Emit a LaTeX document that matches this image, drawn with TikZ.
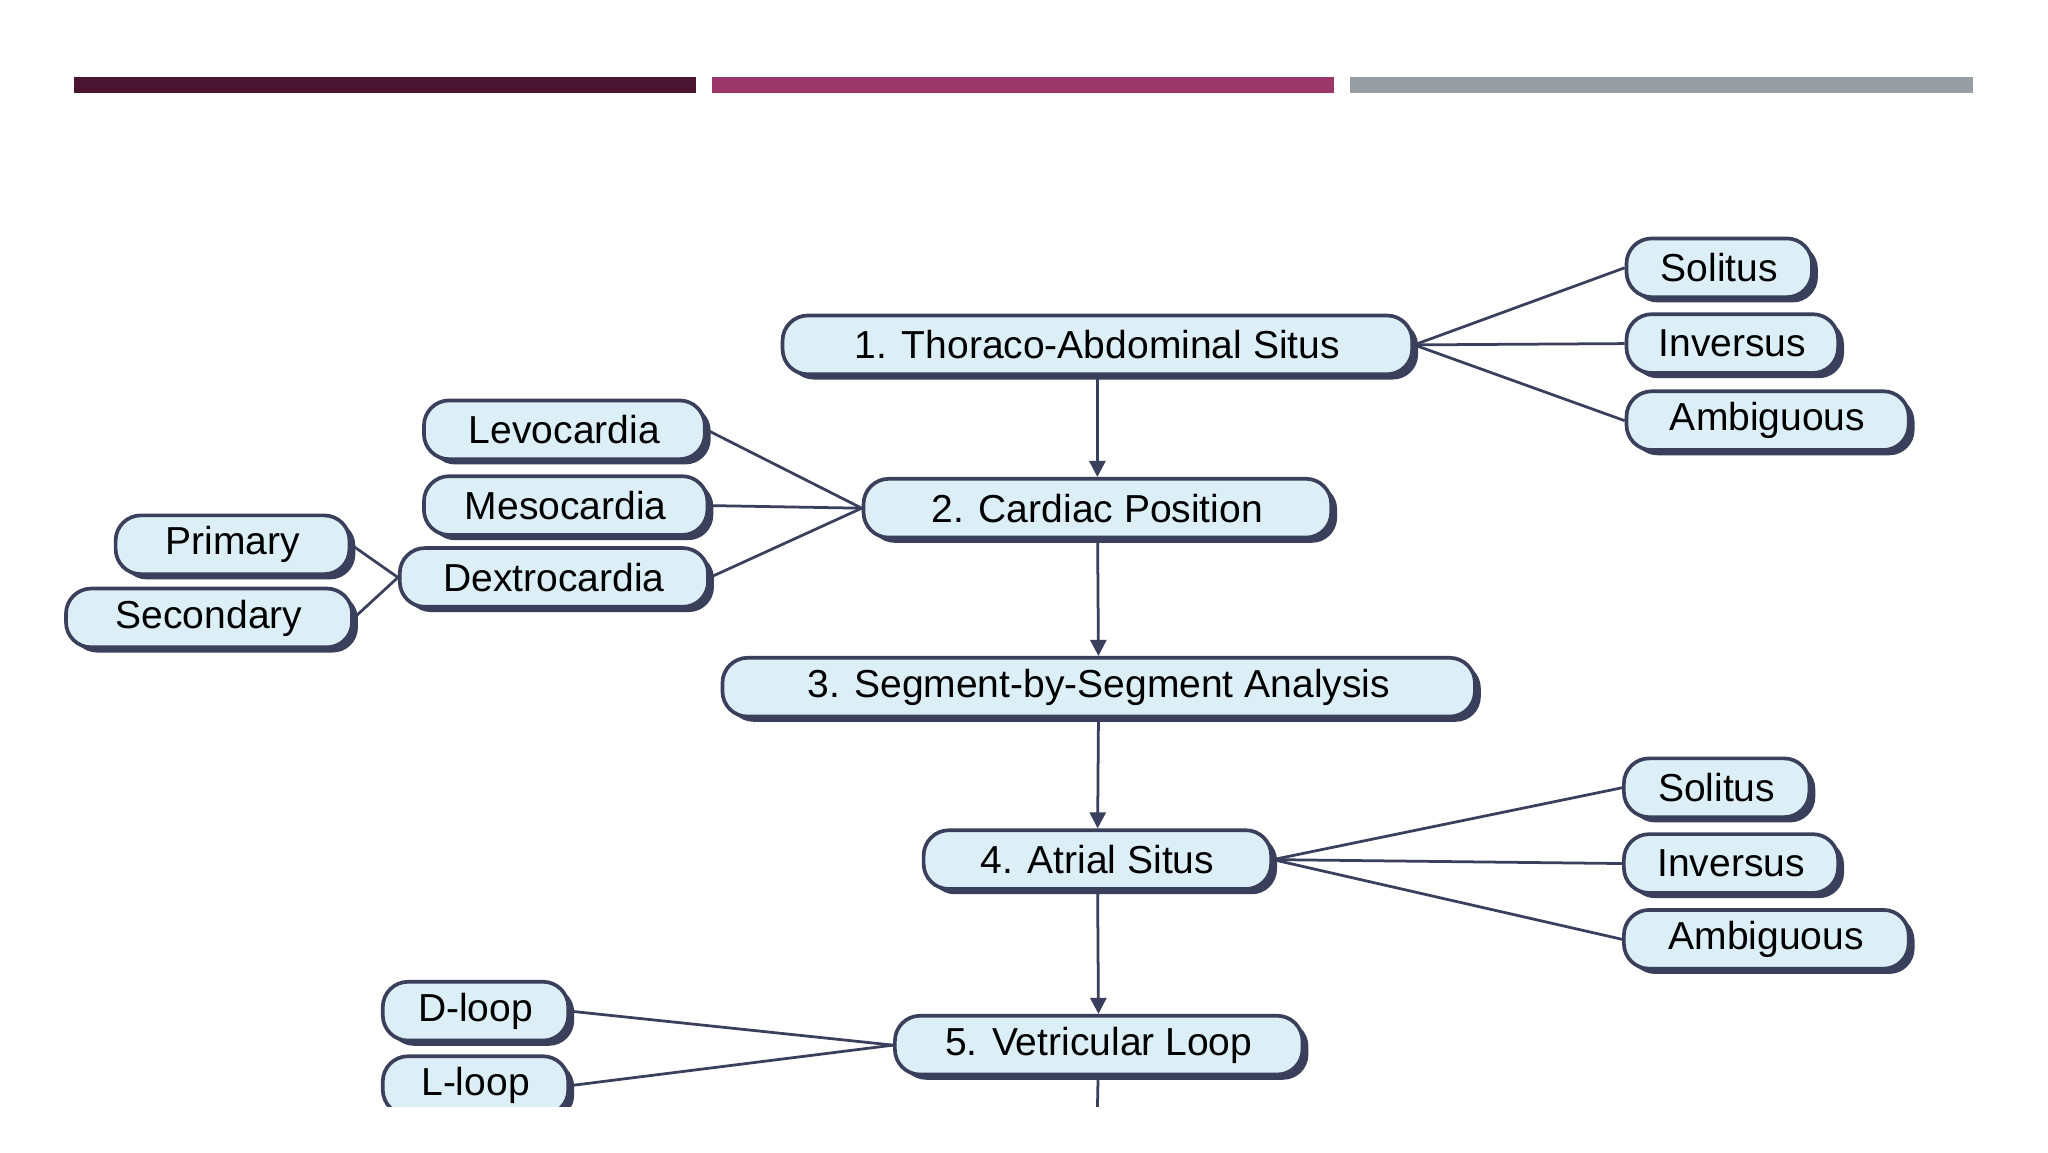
\documentclass[tikz,border=0pt]{standalone}
\usepackage{fontspec}
\setmainfont{Liberation Sans}
\usetikzlibrary{shadows,arrows.meta}
\definecolor{bx}{HTML}{DCEEF6}
\definecolor{ln}{HTML}{3A3F5C}
\definecolor{bar1}{HTML}{4A1530}
\definecolor{bar2}{HTML}{9B3668}
\definecolor{bar3}{HTML}{969EA3}
\tikzset{
 b/.style={draw=ln,line width=1.6pt,fill=bx,rounded corners=11pt,minimum height=0.9cm,inner sep=0pt,
   font=\fontsize{17}{17}\selectfont,
   drop shadow={shadow xshift=0.09cm,shadow yshift=-0.08cm,fill=ln,opacity=1}},
 c/.style={draw=ln,line width=1.2pt},
 a/.style={c,-{Triangle[length=7pt,width=7pt]}}
}
\newcommand{\bn}[5]{\node[b,minimum width=#4*0.02cm] (#1) at (#2*0.02,-#3*0.02) {#5};}
\begin{document}
\begin{tikzpicture}
\useasboundingbox (0,0) rectangle (31.36,-17.64);
\fill[white] (0,0) rectangle (31.36,-17.64);
\fill[bar1] (57*0.02,-59*0.02) rectangle (533*0.02,-71*0.02);
\fill[bar2] (545*0.02,-59*0.02) rectangle (1021*0.02,-71*0.02);
\fill[bar3] (1033*0.02,-59*0.02) rectangle (1510*0.02,-71*0.02);
\bn{t1}{840}{264}{482}{1. Thoraco-Abdominal Situs}
\bn{s1}{1316}{205}{142}{Solitus}
\bn{i1}{1326}{263}{162}{Inversus}
\bn{a1}{1353}{322}{216}{Ambiguous}
\bn{t2}{840}{389}{358}{2. Cardiac Position}
\bn{lev}{432}{329}{215}{Levocardia}
\bn{mes}{433}{387}{217}{Mesocardia}
\bn{dex}{424}{442}{236}{Dextrocardia}
\bn{pri}{178}{417}{179}{Primary}
\bn{sec}{160}{473}{219}{Secondary}
\bn{t3}{841}{526}{576}{3. Segment-by-Segment Analysis}
\bn{t4}{840}{658}{266}{4. Atrial Situs}
\bn{s2}{1314}{603}{142}{Solitus}
\bn{i2}{1325}{661}{164}{Inversus}
\bn{a2}{1352}{719}{218}{Ambiguous}
\bn{t5}{841}{800}{312}{5. Vetricular Loop}
\bn{dl}{364}{774}{142}{D-loop}
\bn{ll}{364}{831}{142}{L-loop}
\coordinate (bot) at (840*0.02,-850*0.02);
\foreach \n in {s1,i1,a1} \draw[c] (t1.east) -- (\n.west);
\foreach \n in {lev,mes,dex} \draw[c] (t2.west) -- (\n.east);
\foreach \n in {pri,sec} \draw[c] (dex.west) -- (\n.east);
\foreach \n in {s2,i2,a2} \draw[c] (t4.east) -- (\n.west);
\foreach \n in {dl,ll} \draw[c] (t5.west) -- (\n.east);
\draw[a] (t1) -- (t2);
\draw[a] (t2) -- (t3);
\draw[a] (t3) -- (t4);
\draw[a] (t4) -- (t5);
\draw[c] (t5) -- (bot);
\fill[white] (0,-847*0.02) rectangle (31.36,-17.64);
\end{tikzpicture}
\end{document}
